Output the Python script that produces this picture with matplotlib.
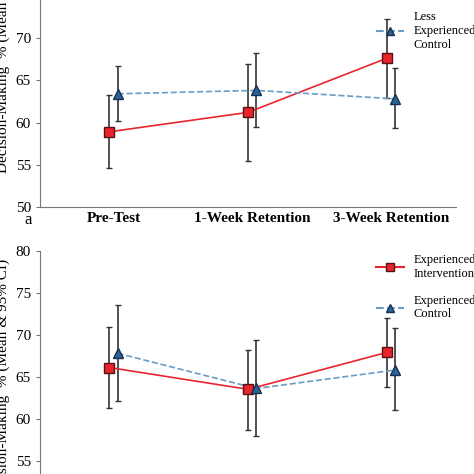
import numpy as np
import matplotlib.pyplot as plt
from matplotlib.lines import Line2D

plt.rcParams["font.family"] = ["Liberation Serif", "DejaVu Serif"]

# ---------------------------------------------------
# Data
# ---------------------------------------------------

phases = ["Pre-Test", "1-Week Retention", "3-Week Retention"]

top_red = [58.9, 61.2, 67.6]
top_red_lo = [54.6, 55.4, 62.9]
top_red_hi = [63.2, 66.9, 72.3]
top_blue = [63.4, 63.8, 62.8]
top_blue_lo = [60.2, 59.5, 59.3]
top_blue_hi = [66.7, 68.2, 66.5]

bot_red = [66.1, 63.5, 67.9]
bot_red_lo = [61.3, 58.7, 63.8]
bot_red_hi = [70.9, 68.2, 72.0]
bot_blue = [67.8, 63.6, 65.8]
bot_blue_lo = [62.1, 57.9, 61.0]
bot_blue_hi = [73.6, 69.4, 70.8]

red = "#e8252f"
blue = "#2a6496"
line_blue = "#6a9cc4"
x = np.arange(len(phases))

red_handle = Line2D([], [], color=red, ls="-", marker="s", ms=6,
                    mfc=red, mec="#5a1010")
blue_handle = Line2D([], [], color=line_blue, ls="--", marker="^", ms=6,
                     mfc=blue, mec="#1a3050")


def draw(ax, m, lo, hi, off, color, marker, ls):
    m = np.array(m)
    err = [m - np.array(lo), np.array(hi) - m]
    ax.errorbar(x + off, m, yerr=err, fmt="none", ecolor="#333333",
                elinewidth=1.2, capsize=2.5, zorder=2)
    ax.plot(x + off, m, color=color if marker == "s" else line_blue,
            ls=ls, lw=1.2, zorder=3)
    ax.plot(x + off, m, marker=marker, ls="none", ms=7,
            mfc=color, mec="#5a1010" if marker == "s" else "#1a3050",
            zorder=4)


fig = plt.figure(figsize=(4.74, 4.74), dpi=100)

# ---------------------------------------------------
# Top panel
# ---------------------------------------------------

ax1 = fig.add_axes([40 / 474, 1 - 207 / 474, 416 / 474, 207 / 474])
draw(ax1, top_red, top_red_lo, top_red_hi, -0.03, red, "s", "-")
draw(ax1, top_blue, top_blue_lo, top_blue_hi, 0.03, blue, "^", "--")
ax1.set_ylim(50, 74.5)
ax1.set_xlim(-0.53, 2.47)
ax1.set_yticks([50, 55, 60, 65, 70])
ax1.set_xticks(x)
ax1.set_xticklabels(phases, fontsize=11, fontweight="bold")
ax1.set_ylabel("Decision-Making  % (Mean & 95% CI)", fontsize=11, y=0.75)
ax1.text(-0.02, -0.065, "a", transform=ax1.transAxes, fontsize=12,
         ha="right", va="center")
ax1.legend([blue_handle], ["Less\nExperienced\nControl"], loc="upper right",
           bbox_to_anchor=(1.06, 0.97), frameon=False, fontsize=9,
           handlelength=2.2, borderaxespad=0)

# ---------------------------------------------------
# Bottom panel
# ---------------------------------------------------

ax2 = fig.add_axes([40 / 474, 0, 416 / 474, 223 / 474])
draw(ax2, bot_red, bot_red_lo, bot_red_hi, -0.03, red, "s", "-")
draw(ax2, bot_blue, bot_blue_lo, bot_blue_hi, 0.03, blue, "^", "--")
ax2.set_ylim(53.4, 80)
ax2.set_xlim(-0.53, 2.47)
ax2.set_yticks([55, 60, 65, 70, 75, 80])
ax2.set_xticks([])
ax2.spines["bottom"].set_visible(False)
ax2.set_ylabel("Decision-Making  % (Mean & 95% CI)", fontsize=11, y=0.42)
ax2.legend([red_handle, blue_handle],
           ["Experienced\nIntervention", "Experienced\nControl"],
           loc="upper right", bbox_to_anchor=(1.06, 1.01), frameon=False,
           fontsize=9, handlelength=2.2, borderaxespad=0, labelspacing=1.2)

for ax in (ax1, ax2):
    ax.spines["top"].set_visible(False)
    ax.spines["right"].set_visible(False)
    ax.spines["left"].set_color("#777777")
    ax.spines["bottom"].set_color("#777777")
    ax.tick_params(axis="y", labelsize=11, length=3, color="#777777")
    ax.tick_params(axis="x", length=0)

fig.savefig("out.png", dpi=100)
